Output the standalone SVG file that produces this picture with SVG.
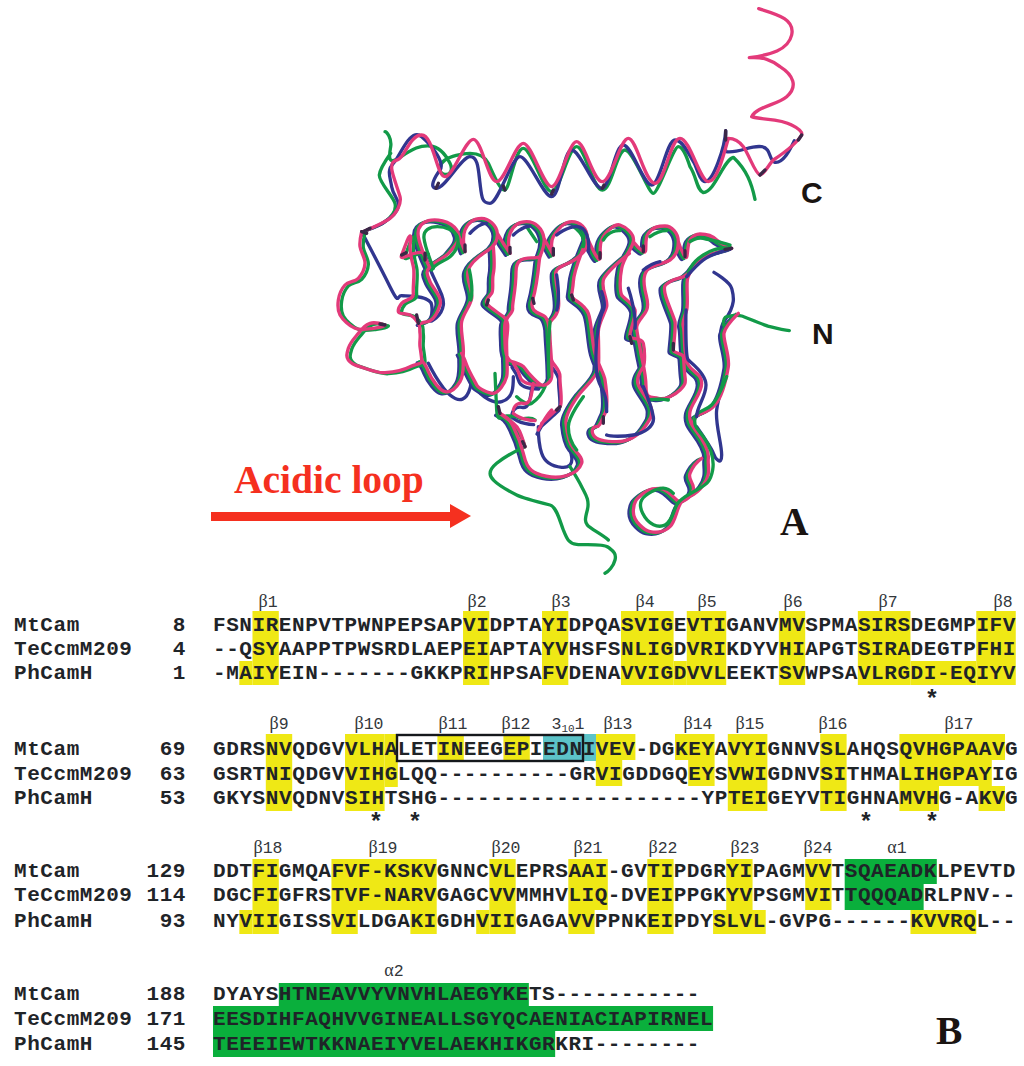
<svg xmlns="http://www.w3.org/2000/svg" xmlns:xlink="http://www.w3.org/1999/xlink" width="1024" height="1066" viewBox="0 0 1024 1066">
<style>
text{font-family:"Liberation Mono","DejaVu Sans Mono",monospace}
.s{font-size:21px;font-weight:bold;fill:#1f2428;letter-spacing:.56px}
.w{letter-spacing:.6px}
.n{font-size:21px;font-weight:bold;fill:#1f2428;letter-spacing:.56px;text-anchor:end}
.l{font-size:16.5px;fill:#33373b;text-anchor:middle}
.gk{font-family:"Liberation Serif",serif;font-size:18px}
.st{font-size:24px;font-weight:bold;fill:#1f2428;text-anchor:middle}
.sb{font-size:11px}
.y{fill:#efe815}.gr{fill:#0aaf3c}.t{fill:#5cc3c8}
.cap{font-family:"Liberation Serif",serif;font-weight:bold;font-size:39.5px;fill:#1a1411}
.end{font-family:"Liberation Sans",sans-serif;font-weight:bold;font-size:30px;fill:#1a1411}
.rib{fill:none;stroke-width:10;stroke-linecap:round;stroke-linejoin:round}
.p{stroke:#e33a7a}.b{stroke:#31368f}.g{stroke:#129a48}.d{stroke:#3a2747}
</style>
<defs>
<path id="loop" d="M35,65 S28,94 30,110 S46,144 45,160 S35,194 25,205 S-5,214 -15,225 S-33,255 -35,270 S-38,301 -30,315 S-2,348 15,355 S55,357 70,355 S100,350 105,345 M105,345 S75,335 60,340 S40,352 25,370 S0,398 -5,415 S-12,440 -5,450 S12,465 30,470 S80,490 105,488 S165,478 180,470 S214,462 215,455 S212,425 210,410 S212,385 210,370 S212,350 205,340 S192,320 180,315 S146,312 145,305 S145,292 155,280 S192,270 190,250 S195,190 190,170 S180,125 180,110 S185,78 180,78 S165,110 155,135 S195,115 225,130"/>
<path id="barrel" d="M240,175 S210,110 205,80 S215,38 235,32 S300,30 320,60 S310,110 300,125 S255,155 240,170 S232,195 240,215 S278,260 270,285 S255,325 240,332 S220,335 215,340
M320,60 S335,100 345,125 M442,70 S462,105 480,130 M582,85 S598,115 610,135
M345,125 S335,85 345,60 S375,25 395,25 S440,45 442,70 S430,110 415,120 S365,150 355,180 S370,240 365,265 S340,310 335,335 S342,400 340,430 S345,490 330,515 S300,548 285,545 S245,510 235,485 S222,460 215,452
M430,110 S435,170 430,190 S432,240 425,250 S405,270 410,280 S440,305 460,320 S472,360 470,390 S475,480 470,500 S445,550 430,550 S385,535 380,525 S355,480 350,465 S340,440 335,430
M480,130 S470,95 480,70 S505,35 530,35 S578,55 582,85 S570,130 568,150 S560,230 548,270 S575,310 585,320 S600,360 600,380 S608,480 605,500 S585,528 575,525 S535,490 525,475 S490,458 480,452 S465,420 465,400 S462,360 465,340 S490,310 488,295 S498,240 498,185 S545,150 568,140
M610,135 S598,100 610,80 S640,35 665,35 S712,55 712,85 S705,125 680,145 S625,165 618,185 S632,260 625,295 S600,325 598,345 S605,440 605,500
M712,85 S672,180 670,215 S660,255 670,265 S705,285 715,310 S725,395 735,430 S762,490 765,510 S775,590 765,610 S750,650 740,650 S722,660 730,675 S770,695 800,695 S865,680 885,650 S905,620 905,600 S875,550 865,525 S875,480 880,470 S885,420 880,400 S845,390 840,380 S860,320 855,300 S820,265 815,255 S808,210 815,175 S845,120 850,95 S825,50 810,45 S765,65 755,90 S755,130 750,145 S725,110 712,85
M838,130 S775,180 762,205 S775,270 770,290 S745,340 745,365 S748,450 745,475 S705,530 690,550 S645,610 648,640 S658,700 670,715 S700,745 695,760 S680,788 650,797 S590,802 560,790 S525,750 520,730 S505,680 490,650 S465,620 450,610
M850,95 S865,115 880,125 S880,90 895,70 S925,48 945,48 S985,70 985,95 S975,140 960,150 S905,165 892,180 S880,215 885,240 S898,280 890,300 S858,335 860,355 S868,400 872,425 S888,490 888,530 S905,560 925,565 S975,555 990,540 S1008,520 1005,500 S1002,450 1000,440 S970,430 970,420 S978,350 975,335 S950,275 945,250 S945,225 960,215 S990,205 1000,200 S1030,175 1045,155 S1110,125 1145,115
M985,95 S995,125 1005,140 S1010,105 1020,90 S1040,72 1050,72 S1085,75 1100,90 S1135,105 1145,115
M1045,155 S1015,185 1012,210 S1015,280 1010,300 S995,335 1000,350 S1000,440 1015,465 S1055,490 1055,520 S1025,580 1020,605 S1025,645 1040,665 S1078,720 1075,745 S1085,790 1060,825 S1020,855 1000,870 S980,930 960,950 S915,968 900,965 S850,935 850,905 S860,865 880,850 S915,835 930,835 S965,855 980,870 S1025,860 1030,840 S1012,810 1020,790 S1040,755 1055,745
M1165,310 S1125,350 1122,370 S1140,440 1135,470 S1120,555 1095,585 S1045,605 1035,625 S1030,650 1040,665"/>
<path id="mess" d="M490,460 S505,480 510,500 S545,525 570,525 M490,600 S495,575 520,580 S545,545 550,520 M490,610 S510,630 555,632 M575,640 S620,600 630,590 S628,520 630,500 S605,460 605,450 M565,660 S590,615 605,600"/>
</defs>
<g id="panel-a" transform="translate(350 0) scale(.33333)" class="rib">
<g id="helix">
<path class="rib g" d="M1215,598 C1205,550 1190,510 1150,472 C1120,480 1095,575 1060,578 C1040,570 1040,530 1020,500 C1010,470 1000,440 985,440 S925,580 910,580 S850,450 825,450 S785,570 757,570 S705,440 680,440 S630,575 605,575 S545,445 520,445 S480,565 465,570 S425,510 415,490 S385,460 360,460 S300,470 285,480 S260,515 280,522 S310,510 300,490 S270,440 240,438 S190,445 150,472 S118,465 122,440 S110,395 105,395 M122,460 S90,505 88,525 S130,590 135,610 S125,650 105,665 S50,690 40,695"/>
<path class="rib b" d="M1333,422 C1320,450 1300,490 1275,487 C1255,480 1265,445 1235,440 C1200,435 1170,460 1128,455 C1120,440 1128,410 1127,392 C1125,440 1090,545 1065,545 C1050,545 1040,500 1030,485 S1000,420 975,420 S930,555 905,555 S845,435 820,435 S780,565 755,565 S690,450 665,450 S630,590 605,590 S535,470 510,470 S445,610 420,610 S395,590 390,550 S385,470 360,470 S285,565 260,565 S255,530 270,510 S250,440 215,410 S150,470 130,490 S120,530 125,560 S150,600 145,620 S125,650 105,665 S50,690 40,695"/>
<path class="rib p" d="M1226,26 C1290,45 1335,60 1325,105 C1315,150 1260,165 1198,173 C1240,170 1265,180 1290,200 C1330,225 1345,260 1310,290 C1280,315 1220,320 1205,350 C1230,360 1290,355 1325,375 C1345,385 1358,395 1355,405 C1340,430 1300,460 1270,480 C1255,495 1245,520 1230,525 C1215,520 1200,470 1180,440 C1165,420 1145,415 1135,415 C1120,470 1100,545 1075,545 S1020,415 990,415 S945,550 915,550 S860,415 835,415 S785,545 757,545 S705,425 680,425 S630,560 605,560 S545,430 520,430 S465,545 440,545 S395,418 370,418 S310,530 285,530 S250,405 215,405 S165,470 145,478 S125,490 125,505 S145,570 150,590 S140,640 120,655 S50,690 40,695"/>
<path class="rib d" d="M1127,392 V420 M40,695 L60,685 M1355,405 L1345,420 M1230,525 L1245,510 M605,582 L610,570 M757,565 L762,555 M465,570 L460,558 M258,565 L265,550"/>
</g>
<g id="barrel-group" transform="translate(0 630)">
<path class="rib b" d="M35,65 S90,170 120,230 S140,255 155,257 S240,255 245,285 S240,325 240,332 S275,320 280,285 S240,200 225,130 M1092,187 S1140,215 1145,235 S1160,280 1125,330 S1135,440 1130,470 S1105,560 1100,600 S1115,700 1115,735 S1095,745 1090,730 S1060,680 1040,650 M565,650 S565,700 575,730 S610,770 635,772 S668,760 665,740 S650,680 650,640 M235,460 S270,530 300,555 S350,570 360,535 S345,490 330,470 M380,540 S420,585 455,575 S490,530 490,500"/>
<use xlink:href="#barrel" href="#barrel" class="rib b" transform="translate(-13 6)"/>
<use xlink:href="#mess" href="#mess" class="rib b" transform="translate(-4 12)"/>
<use xlink:href="#loop" href="#loop" class="rib g" transform="translate(10 3)"/>
<use xlink:href="#barrel" href="#barrel" class="rib g" transform="translate(-7 3)"/>
<path class="rib g" d="M1120,345 S1120,322 1130,320 S1165,315 1175,318 S1240,345 1260,350 S1300,360 1318,362 M525,710 S470,735 440,760 S420,800 432,812 S480,845 500,855 S580,880 600,885 S630,935 640,960 S655,1000 680,1003 S760,1000 775,1012 S800,1030 795,1050 S775,1085 765,1090 M660,770 S685,810 695,830 S720,870 712,900 S705,935 712,945 S760,975 775,990 M435,490 S438,560 440,600 S455,620 470,618 S500,620 510,625 S540,618 555,630 M470,618 S515,670 525,710 M500,560 S530,590 545,580 S575,555 585,530"/>
<path class="rib p" d="M450,610 S470,625 490,640 S515,680 525,710"/>
<use xlink:href="#loop" href="#loop" class="rib p"/>
<use xlink:href="#barrel" href="#barrel" class="rib p"/>
<use xlink:href="#mess" href="#mess" class="rib p"/>
<g id="weave">
<path class="rib g" d="M250,175 S225,110 222,85 S240,50 262,50 S315,60 322,80 S318,125 300,140 S255,160 245,180 M600,335 S592,420 597,500 M358,180 S372,240 362,270 M1130,500 S1105,565 1085,585 S1040,600 1035,625 S1045,660 1060,680 S1095,740 1088,780 S1065,825 1040,840 S990,865 980,885 S965,935 945,945 S895,945 878,910 S878,860 905,845 S950,830 970,850 M1015,190 S1020,160 1060,135 S1110,118 1140,112 M1020,95 S1040,80 1060,85 S1110,95 1140,105 M760,90 S775,60 810,62 M900,80 S925,62 950,62 M560,95 S540,65 530,50 M670,50 S710,75 700,110 M700,560 S655,620 655,650 S668,705 680,720 M895,570 S930,565 955,570"/>
<path class="rib b" d="M1008,300 S1005,440 1015,450 S1068,490 1068,525 S1040,590 1040,620 M1010,200 S1040,165 1060,150 S1110,125 1140,118 M880,180 S905,160 930,155 M360,70 S385,40 410,40 M490,75 S515,50 540,48 M620,75 S650,50 680,50 S720,90 715,125 M620,195 S632,265 620,300 M755,245 S768,285 760,300 S735,370 738,460 S770,520 770,605 M880,530 S905,590 910,620 S880,670 850,675 S780,680 770,675 M835,235 S860,310 855,355"/>
<path class="rib d" d="M345,125 V105 M480,130 V112 M610,135 V115 M750,145 V128 M880,125 V108 M1005,140 V122 M155,135 L168,128 M225,130 V150 M450,610 L445,590 M525,710 L518,695 M1145,115 L1125,118 M760,640 V620 M35,65 L50,70 M105,345 L90,342 M415,270 L410,285 M548,265 L552,280 M665,255 L670,270 M840,380 L845,400 M970,420 V400 M630,590 L620,600 M205,340 L200,315"/>
</g>
</g>
</g>
<g id="labels-a">
<text class="end" x="801" y="203">C</text>
<text class="end" x="812" y="344">N</text>
<text class="cap" x="234" y="493" style="fill:#f5301f">Acidic loop</text>
<path id="acidic-arrow" d="M211,512 H450 V504 L471,516 L450,528 V521 H211 Z" fill="#f5301f"/>
<text class="cap" x="780" y="535">A</text>
<text class="cap" x="936" y="1044">B</text>
</g>
<g id="highlights">
<g transform="translate(213 611) scale(13.16 1)" class="y">
<rect x="3" width="2" height="74"/><rect x="2" y="50" width="1" height="24"/>
<rect x="19" width="2" height="74"/><rect x="25" width="2" height="74"/>
<rect x="31" width="4" height="74"/><rect x="36" width="3" height="74"/><rect x="35" y="50" width="1" height="24"/>
<rect x="43" width="2" height="74"/><rect x="49" width="4" height="74"/><rect x="58" width="3" height="74"/><rect x="53" y="50" width="5" height="24"/>
</g>
<g transform="translate(213 734) scale(13.2 1)" class="y">
<rect x="4" width="2" height="77"/><rect x="10" width="3" height="77"/><rect x="13" width="1" height="53"/>
<rect x="17" width="2" height="26"/><rect x="22" width="2" height="26"/><rect x="29" width="3" height="26"/><rect x="29" y="26" width="2" height="26"/>
<rect x="35" width="3" height="26"/><rect x="36" y="26" width="2" height="26"/><rect x="39" width="3" height="77"/>
<rect x="46" width="2" height="77"/><rect x="52" width="8" height="26"/><rect x="52" y="26" width="7" height="26"/><rect x="52" y="52" width="3" height="25"/><rect x="58" y="52" width="2" height="25"/>
</g>
<rect class="t" x="543" y="734" width="53" height="27"/>
<g transform="translate(213 859) scale(13.16 1)">
<g class="y">
<rect x="3" width="2" height="75"/><rect x="2" y="51" width="1" height="24"/>
<rect x="9" width="8" height="51"/><rect x="9" y="51" width="2" height="24"/><rect x="15" y="51" width="2" height="24"/>
<rect x="21" width="2" height="75"/><rect x="20" y="51" width="1" height="24"/>
<rect x="27" width="3" height="51"/><rect x="27" y="51" width="2" height="24"/>
<rect x="33" width="2" height="75"/><rect x="39" width="2" height="51"/><rect x="38" y="51" width="4" height="24"/>
<rect x="45" width="2" height="51"/><rect x="53" y="51" width="5" height="24"/>
</g>
<g class="gr"><rect x="48" width="7" height="25"/><rect x="48" y="25" width="6" height="26"/></g>
</g>
<g transform="translate(213 983) scale(13.16 1)" class="gr">
<rect x="5" width="19" height="23"/><rect y="23" width="38" height="25"/><rect y="48" width="26" height="26"/>
</g>
<rect id="loop-box" x="397" y="735" width="186" height="26" fill="none" stroke="#15181c" stroke-width="2.4"/>
</g>
<g id="alignment">
<text class="s" x="14" y="631">MtCam</text><text class="n" x="186" y="631">8</text><text class="s" x="213" y="631">FSNIRENPVTPWNPEPSAPVIDPTAYIDPQASVIGEVTIGANVMVSPMASIRSDEGMPIFV</text>
<text class="s" x="14" y="655">TeCcmM209</text><text class="n" x="186" y="655">4</text><text class="s" x="213" y="655">--QSYAAPPTPWSRDLAEPEIAPTAYVHSFSNLIGDVRIKDYVHIAPGTSIRADEGTPFHI</text>
<text class="s" x="14" y="679">PhCamH</text><text class="n" x="186" y="679">1</text><text class="s" x="213" y="679">-MAIYEIN-------GKKPRIHPSAFVDENAVVIGDVVLEEKTSVWPSAVLRGDI-EQIYV</text>
<text class="s" x="14" y="755">MtCam</text><text class="n" x="186" y="755">69</text><text class="s w" x="213" y="755">GDRSNVQDGVVLHALETINEEGEPIEDNIVEV-DGKEYAVYIGNNVSLAHQSQVHGPAAVG</text>
<text class="s" x="14" y="780">TeCcmM209</text><text class="n" x="186" y="780">63</text><text class="s w" x="213" y="780">GSRTNIQDGVVIHGLQQ----------GRVIGDDGQEYSVWIGDNVSITHMALIHGPAYIG</text>
<text class="s" x="14" y="804">PhCamH</text><text class="n" x="186" y="804">53</text><text class="s w" x="213" y="804">GKYSNVQDNVSIHTSHG--------------------YPTEIGEYVTIGHNAMVHG-AKVG</text>
<text class="s" x="14" y="877">MtCam</text><text class="n" x="186" y="877">129</text><text class="s" x="213" y="877">DDTFIGMQAFVF-KSKVGNNCVLEPRSAAI-GVTIPDGRYIPAGMVVTSQAEADKLPEVTD</text>
<text class="s" x="14" y="901">TeCcmM209</text><text class="n" x="186" y="901">114</text><text class="s" x="213" y="901">DGCFIGFRSTVF-NARVGAGCVVMMHVLIQ-DVEIPPGKYVPSGMVITTQQQADRLPNV--</text>
<text class="s" x="14" y="927">PhCamH</text><text class="n" x="186" y="927">93</text><text class="s" x="213" y="927">NYVIIGISSVILDGAKIGDHVIIGAGAVVPPNKEIPDYSLVL-GVPG------KVVRQL--</text>
<text class="s" x="14" y="1000">MtCam</text><text class="n" x="186" y="1000">188</text><text class="s" x="213" y="1000">DYAYSHTNEAVVYVNVHLAEGYKETS-----------</text>
<text class="s" x="14" y="1025">TeCcmM209</text><text class="n" x="186" y="1025">171</text><text class="s" x="213" y="1025">EESDIHFAQHVVGINEALLSGYQCAENIACIAPIRNEL</text>
<text class="s" x="14" y="1050">PhCamH</text><text class="n" x="186" y="1050">145</text><text class="s" x="213" y="1050">TEEEIEWTKKNAEIYVELAEKHIKGRKRI--------</text>
</g>
<g id="structure-labels">
<text class="l" x="268" y="607"><tspan class="gk">β</tspan>1</text>
<text class="l" x="477" y="607"><tspan class="gk">β</tspan>2</text>
<text class="l" x="561" y="607"><tspan class="gk">β</tspan>3</text>
<text class="l" x="645" y="607"><tspan class="gk">β</tspan>4</text>
<text class="l" x="707" y="607"><tspan class="gk">β</tspan>5</text>
<text class="l" x="793" y="607"><tspan class="gk">β</tspan>6</text>
<text class="l" x="888" y="607"><tspan class="gk">β</tspan>7</text>
<text class="l" x="1003" y="607"><tspan class="gk">β</tspan>8</text>
<text class="l" x="279" y="729"><tspan class="gk">β</tspan>9</text>
<text class="l" x="369" y="729"><tspan class="gk">β</tspan>10</text>
<text class="l" x="453" y="729"><tspan class="gk">β</tspan>11</text>
<text class="l" x="516" y="729"><tspan class="gk">β</tspan>12</text>
<text class="l" x="568" y="729">3<tspan class="sb" dy="3">10</tspan><tspan dy="-3">1</tspan></text>
<text class="l" x="618" y="729"><tspan class="gk">β</tspan>13</text>
<text class="l" x="698" y="729"><tspan class="gk">β</tspan>14</text>
<text class="l" x="750" y="729"><tspan class="gk">β</tspan>15</text>
<text class="l" x="833" y="729"><tspan class="gk">β</tspan>16</text>
<text class="l" x="959" y="729"><tspan class="gk">β</tspan>17</text>
<text class="l" x="268" y="853"><tspan class="gk">β</tspan>18</text>
<text class="l" x="383" y="853"><tspan class="gk">β</tspan>19</text>
<text class="l" x="506" y="853"><tspan class="gk">β</tspan>20</text>
<text class="l" x="588" y="853"><tspan class="gk">β</tspan>21</text>
<text class="l" x="663" y="853"><tspan class="gk">β</tspan>22</text>
<text class="l" x="745" y="853"><tspan class="gk">β</tspan>23</text>
<text class="l" x="818" y="853"><tspan class="gk">β</tspan>24</text>
<text class="l" x="897" y="853"><tspan class="gk">α</tspan>1</text>
<text class="l" x="394" y="976"><tspan class="gk">α</tspan>2</text>
</g>
<g id="asterisks">
<text class="st" x="932" y="707">*</text>
<text class="st" x="376" y="830">*</text>
<text class="st" x="415" y="830">*</text>
<text class="st" x="866" y="830">*</text>
<text class="st" x="932" y="830">*</text>
</g>
</svg>
